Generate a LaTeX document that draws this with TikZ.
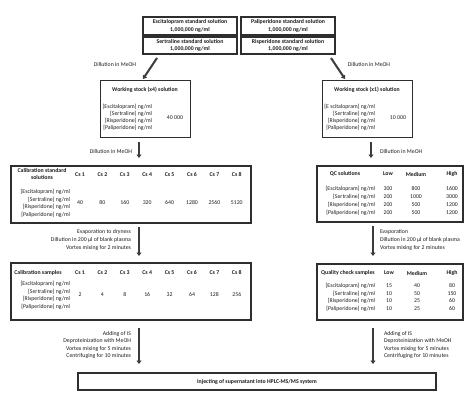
\documentclass[tikz,border=0pt]{standalone}
\usepackage{fontspec}
\setmainfont{Carlito}
\usetikzlibrary{arrows.meta}
\definecolor{txt}{HTML}{1E1E1E}
\definecolor{bord}{HTML}{2E2E2E}
\definecolor{arr}{HTML}{3C3C3C}
\begin{document}
\begin{tikzpicture}[x=1pt,y=-1pt,
 every node/.style={inner sep=0pt,outer sep=0pt,text=txt,font=\fontsize{5.8}{7.6}\selectfont},
 hd/.style={font=\fontsize{5.8}{7.6}\selectfont\bfseries},
 box/.style={draw=bord,line width=1.1pt,rectangle},
 thinbox/.style={draw=bord,line width=0.8pt,rectangle},
 lab/.style={anchor=east},
 rlab/.style={anchor=west},
 flow/.style={draw=arr,line width=2pt,-{Triangle[width=5pt,length=3.5pt]}},
]
\useasboundingbox (0,0) rectangle (474,404);
\fill[white] (0,0) rectangle (474,404);
\coordinate (lx) at (139,0);
\coordinate (rx1) at (371,0);
\coordinate (rx) at (373,0);

% top boxes
\node[box,hd,align=center,minimum width=94pt,minimum height=18pt] (esc) at (190,26) {Escitalopram standard solution\\1,000,000 ng/ml};
\node[box,hd,align=center,minimum width=94pt,minimum height=17pt] (ser) at (190,45.5) {Sertraline standard solution\\1,000,000 ng/ml};
\node[box,hd,align=center,minimum width=94pt,minimum height=18pt] (pal) at (288,26) {Paliperidone standard solution\\1,000,000 ng/ml};
\node[box,hd,align=center,minimum width=94pt,minimum height=17pt] (ris) at (288,45.5) {Risperidone standard solution\\1,000,000 ng/ml};

% working stock boxes
\node[thinbox,minimum width=90pt,minimum height=57pt] (wl) at (145,108.5) {};
\node[thinbox,minimum width=90pt,minimum height=57pt] (wr) at (367,108.5) {};

\draw[flow] ([shift={(-33pt,-4pt)}]ser.south) -- ([shift={(-2pt,1pt)}]wl.north);
\draw[flow] ([shift={(43pt,-4pt)}]ris.south) -- ([shift={(-22pt,1pt)}]wr.north);
\node (d1) at (115,65) {Dillution in MeOH};
\node (d2) at (369,65) {Dillution in MeOH};

\node[hd] (wlt) at (145,90) {Working stock (x4) solution};
\node[lab] (wl1) at (152,107) {[Escitalopram] ng/ml};
\node[lab] (wl2) at (152,114) {[Sertraline] ng/ml};
\node[lab] (wl3) at (152,121) {[Risperidone] ng/ml};
\node[lab] (wl4) at (152,128) {[Paliperidone] ng/ml};
\node (wlv) at (175,118) {40 000};

\node[hd] (wrt) at (367,90) {Working stock (x1) solution};
\node[lab] (wr1) at (375,107) {[E scitalopram] ng/ml};
\node[lab] (wr2) at (375,114) {[Sertraline] ng/ml};
\node[lab] (wr3) at (375,121) {[Risperidone] ng/ml};
\node[lab] (wr4) at (375,128) {[Paliperidone] ng/ml};
\node (wrv) at (398,118) {10 000};

% calibration standard solutions
\node[box,minimum width=240pt,minimum height=57pt] (cs) at (131,194.5) {};
\node[hd,align=center] (cst) at (42,174) {Calibration standard\\solutions};
\foreach \i/\v [count=\k from 0] in {1/40,2/80,3/160,4/320,5/640,6/1280,7/2560,8/5120}{
  \node[hd] (csh\i) at (80+22.4*\k,175) {Cs \i};
  \node (csv\i) at (80+22.4*\k,203) {\v};
}
\node[lab] (cs1) at (70,192) {[Escitalopram] ng/ml};
\node[lab] (cs2) at (70,199.5) {[Sertraline] ng/ml};
\node[lab] (cs3) at (70,207) {[Risperidone] ng/ml};
\node[lab] (cs4) at (70,214.5) {[Paliperidone] ng/ml};

% QC solutions
\node[box,minimum width=146pt,minimum height=56pt] (qc) at (390,194) {};
\node[hd] (qct) at (345,174) {QC solutions};
\node[hd] (qcl) at (388,174) {Low};
\node[hd] (qcm) at (416,174) {Medium};
\node[hd] (qch) at (452,174) {High};
\foreach \n/\y/\a/\b/\c in {[Escitalopram]/189/300/800/1600,[Sertraline]/197/200/1000/3000,[Risperidone]/205/200/500/1200,[Paliperidone]/213/200/500/1200}{
  \node[lab] at (375,\y) {\n{} ng/ml};
  \node at (388,\y) {\a};
  \node at (416,\y) {\b};
  \node at (452,\y) {\c};
}

\draw[flow] ([yshift=-5pt]wl.south -| lx) -- ([yshift=8pt]cs.north -| lx);
\node[lab] (d3) at (132,152) {Dillution in MeOH};
\draw[flow] ([yshift=-5pt]wr.south -| rx1) -- ([yshift=8pt]qc.north -| rx1);
\node[rlab] (d4) at (380,152) {Dillution in MeOH};

% calibration samples
\node[box,minimum width=240pt,minimum height=57pt] (smp) at (131,291.5) {};
\node[hd] (smpt) at (38,273) {Calibration samples};
\foreach \i/\v [count=\k from 0] in {1/2,2/4,3/8,4/16,5/32,6/64,7/128,8/256}{
  \node[hd] (smh\i) at (80+22.4*\k,273) {Cs \i};
  \node (smv\i) at (80+22.4*\k,295) {\v};
}
\node[lab] (sm1) at (70,284) {[Escitalopram] ng/ml};
\node[lab] (sm2) at (70,291.5) {[Sertraline] ng/ml};
\node[lab] (sm3) at (70,299) {[Risperidone] ng/ml};
\node[lab] (sm4) at (70,306.5) {[Paliperidone] ng/ml};

% quality check samples
\node[box,minimum width=146pt,minimum height=56pt] (qcs) at (390,292) {};
\node[hd] (qcst) at (348,273) {Quality check samples};
\node[hd] (qcsl) at (389,273) {Low};
\node[hd] (qcsm) at (417,273) {Medium};
\node[hd] (qcsh) at (452,273) {High};
\foreach \n/\y/\a/\b/\c in {[Escitalopram]/286/15/40/80,[Sertraline]/293.5/10/50/150,[Risperidone]/301/10/25/60,[Paliperidone]/308.5/10/25/60}{
  \node[lab] at (375,\y) {\n{} ng/ml};
  \node at (389,\y) {\a};
  \node at (417,\y) {\b};
  \node at (452,\y) {\c};
}

\draw[flow] ([yshift=-4pt]cs.south -| lx) -- ([yshift=7pt]smp.north -| lx);
\node[lab,align=right] (e1) at (131,240) {Evaporation to dryness\\Dillution in 200 µl of blank plasma\\Vortex mixing for 2 minutes};
\draw[flow] ([yshift=-4pt]qc.south -| rx) -- ([yshift=8pt]qcs.north -| rx);
\node[rlab,align=left] (e2) at (380,240) {Evaporation\\Dillution in 200 µl of blank plasma\\Vortex mixing for 2 minutes};

% final
\node[box,hd,minimum width=358pt,minimum height=17pt] (fin) at (257,381.5) {Injecting of supernatant into HPLC-MS/MS system};
\draw[flow] ([yshift=-8pt]smp.south -| lx) -- ([yshift=9pt]fin.north -| lx);
\node[lab,align=right] (p1) at (131,345) {Adding of IS\\Deproteinization with MeOH\\Vortex mixing for 5 minutes\\Centrifuging for 10 minutes};
\draw[flow] ([yshift=-8pt]qcs.south -| rx) -- ([yshift=9pt]fin.north -| rx);
\node[rlab,align=left] (p2) at (384,345) {Adding of IS\\Deproteinization with MeOH\\Vortex mixing for 5 minutes\\Centrifuging for 10 minutes};
\end{tikzpicture}
\end{document}
